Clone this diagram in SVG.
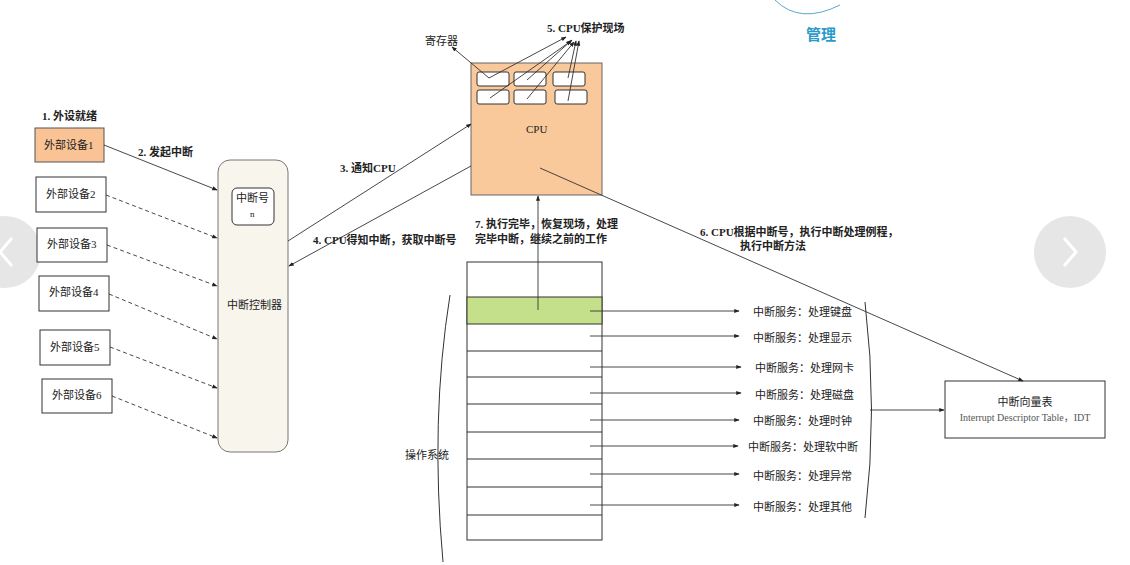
<svg xmlns="http://www.w3.org/2000/svg" width="1130" height="565" viewBox="0 0 1130 565">
<style>
text{font-family:"Liberation Serif","Noto Sans CJK SC",serif;font-size:11px;fill:#222}
.b{font-weight:bold;font-size:11px}
.box{fill:#fff;stroke:#333;stroke-width:1}
.c line,.c path{stroke:#333;stroke-width:0.9;fill:none}
.d{stroke-dasharray:4 3}
</style>
<defs><marker id="a" viewBox="0 0 8 8" refX="7" refY="4" markerWidth="6" markerHeight="6" orient="auto"><path d="M0,1 L8,4 L0,7z" fill="#222"/></marker></defs>
<rect width="1130" height="565" fill="#fff"/>
<circle cx="5" cy="252" r="36" fill="#e6e6e6"/><path d="M12,238 L0,252 L12,266" stroke="#fff" stroke-width="3" fill="none"/>
<circle cx="1070" cy="252" r="36" fill="#e6e6e6"/><path d="M1064,238 L1076,252 L1064,266" stroke="#fff" stroke-width="3" fill="none"/>
<path d="M775,0 Q800,25 840,5" stroke="#5aaacc" fill="none"/>
<text x="806" y="40" style="font-family:'Noto Sans CJK SC',sans-serif;font-size:15px;font-weight:bold;fill:#2a9ac8">管理</text>
<g id="dev1"><rect x="35" y="128" width="69" height="34" fill="#fac395" stroke="#555"/><text x="44" y="149">外部设备1</text></g>
<g id="dev2"><rect class="box" x="36" y="177" width="70" height="35"/><text x="46" y="198">外部设备2</text></g>
<g id="dev3"><rect class="box" x="37" y="228" width="70" height="34"/><text x="47" y="248">外部设备3</text></g>
<g id="dev4"><rect class="box" x="39" y="276" width="70" height="35"/><text x="49" y="296">外部设备4</text></g>
<g id="dev5"><rect class="box" x="40" y="330" width="70" height="35"/><text x="50" y="351">外部设备5</text></g>
<g id="dev6"><rect class="box" x="42" y="379" width="70" height="34"/><text x="52" y="399">外部设备6</text></g>
<g id="ctrl"><rect x="218" y="160" width="70" height="292" rx="12" fill="#f7f5ec" stroke="#777"/><rect class="box" x="232" y="188" width="42" height="37" rx="5" stroke="#666"/><text x="236" y="202">中断号</text><text x="250" y="217" style="font-size:9px">n</text><text x="227" y="309">中断控制器</text></g>
<g id="cpu"><rect x="471" y="63" width="131" height="132" fill="#f9c89b" stroke="#666"/>
<g class="box" stroke="#555"><rect x="477" y="72" width="32" height="14" rx="2"/><rect x="514" y="72" width="32" height="14" rx="2"/><rect x="553" y="72" width="32" height="14" rx="2"/><rect x="477" y="90" width="32" height="14" rx="2"/><rect x="514" y="90" width="32" height="14" rx="2"/><rect x="555" y="90" width="32" height="14" rx="2"/></g>
<text x="526" y="133">CPU</text></g>
<g id="os"><rect class="box" x="467" y="262" width="135" height="278"/><rect x="467" y="297" width="135" height="27" fill="#c5e08a" stroke="#333"/>
<g stroke="#333"><line x1="467" y1="351" x2="602" y2="351"/><line x1="467" y1="377" x2="602" y2="377"/><line x1="467" y1="404" x2="602" y2="404"/><line x1="467" y1="432" x2="602" y2="432"/><line x1="467" y1="459" x2="602" y2="459"/><line x1="467" y1="487" x2="602" y2="487"/><line x1="467" y1="515" x2="602" y2="515"/></g>
<path d="M450,295 Q430,420 443,562" stroke="#333" fill="none"/><text x="405" y="459">操作系统</text></g>
<g id="idt"><rect class="box" x="945" y="381" width="160" height="57"/><text x="1025" y="406" text-anchor="middle">中断向量表</text><text x="1025" y="421" text-anchor="middle" style="font-size:10px;fill:#555">Interrupt Descriptor Table，IDT</text></g>
<g id="services"><text x="753" y="316">中断服务：处理键盘</text><text x="753" y="342">中断服务：处理显示</text><text x="755" y="372">中断服务：处理网卡</text><text x="755" y="399">中断服务：处理磁盘</text><text x="753" y="425">中断服务：处理时钟</text><text x="748" y="451">中断服务：处理软中断</text><text x="753" y="480">中断服务：处理异常</text><text x="753" y="511">中断服务：处理其他</text>
<path d="M865,302 Q878,410 865,518" stroke="#333" fill="none"/></g>
<g id="labels"><text class="b" x="42" y="120">1. 外设就绪</text><text class="b" x="138" y="156">2. 发起中断</text><text class="b" x="340" y="172">3. 通知CPU</text><text class="b" x="313" y="244">4. CPU得知中断，获取中断号</text><text class="b" x="547" y="32">5. CPU保护现场</text><text class="b" x="700" y="236">6. CPU根据中断号，执行中断处理例程，</text><text class="b" x="740" y="250">执行中断方法</text><text class="b" x="475" y="228">7. 执行完毕，恢复现场，处理</text><text class="b" x="475" y="243">完毕中断，继续之前的工作</text><text x="425" y="45">寄存器</text></g>
<g class="c">
<line x1="104" y1="145" x2="217" y2="190" marker-end="url(#a)"/>
<line class="d" x1="106" y1="195" x2="217" y2="238" marker-end="url(#a)"/>
<line class="d" x1="107" y1="245" x2="217" y2="286" marker-end="url(#a)"/>
<line class="d" x1="109" y1="294" x2="217" y2="339" marker-end="url(#a)"/>
<line class="d" x1="110" y1="347" x2="217" y2="388" marker-end="url(#a)"/>
<line class="d" x1="112" y1="396" x2="217" y2="438" marker-end="url(#a)"/>
<line x1="288" y1="241" x2="471" y2="124" marker-end="url(#a)"/>
<line x1="471" y1="166" x2="289" y2="266" marker-end="url(#a)"/>
<line x1="489" y1="78" x2="452" y2="47" marker-end="url(#a)"/>
<line x1="489" y1="78" x2="566" y2="37" marker-end="url(#a)"/>
<line x1="490" y1="98" x2="571" y2="41" marker-end="url(#a)"/>
<line x1="527" y1="80" x2="572" y2="40" marker-end="url(#a)"/>
<line x1="527" y1="99" x2="574" y2="42" marker-end="url(#a)"/>
<line x1="568" y1="78" x2="576" y2="41" marker-end="url(#a)"/>
<line x1="568" y1="101" x2="579" y2="41" marker-end="url(#a)"/>
<line x1="538" y1="310" x2="538" y2="196" marker-end="url(#a)"/>
<line x1="540" y1="168" x2="1023" y2="381" marker-end="url(#a)"/>
<line x1="590" y1="311" x2="739" y2="311" marker-end="url(#a)"/>
<line x1="590" y1="336" x2="739" y2="336" marker-end="url(#a)"/>
<line x1="590" y1="367" x2="741" y2="367" marker-end="url(#a)"/>
<line x1="590" y1="393" x2="741" y2="393" marker-end="url(#a)"/>
<line x1="590" y1="420" x2="739" y2="420" marker-end="url(#a)"/>
<line x1="590" y1="446" x2="738" y2="446" marker-end="url(#a)"/>
<line x1="590" y1="474" x2="739" y2="474" marker-end="url(#a)"/>
<line x1="590" y1="505" x2="739" y2="505" marker-end="url(#a)"/>
<line x1="870" y1="410" x2="944" y2="410" marker-end="url(#a)"/>
</g>
</svg>
